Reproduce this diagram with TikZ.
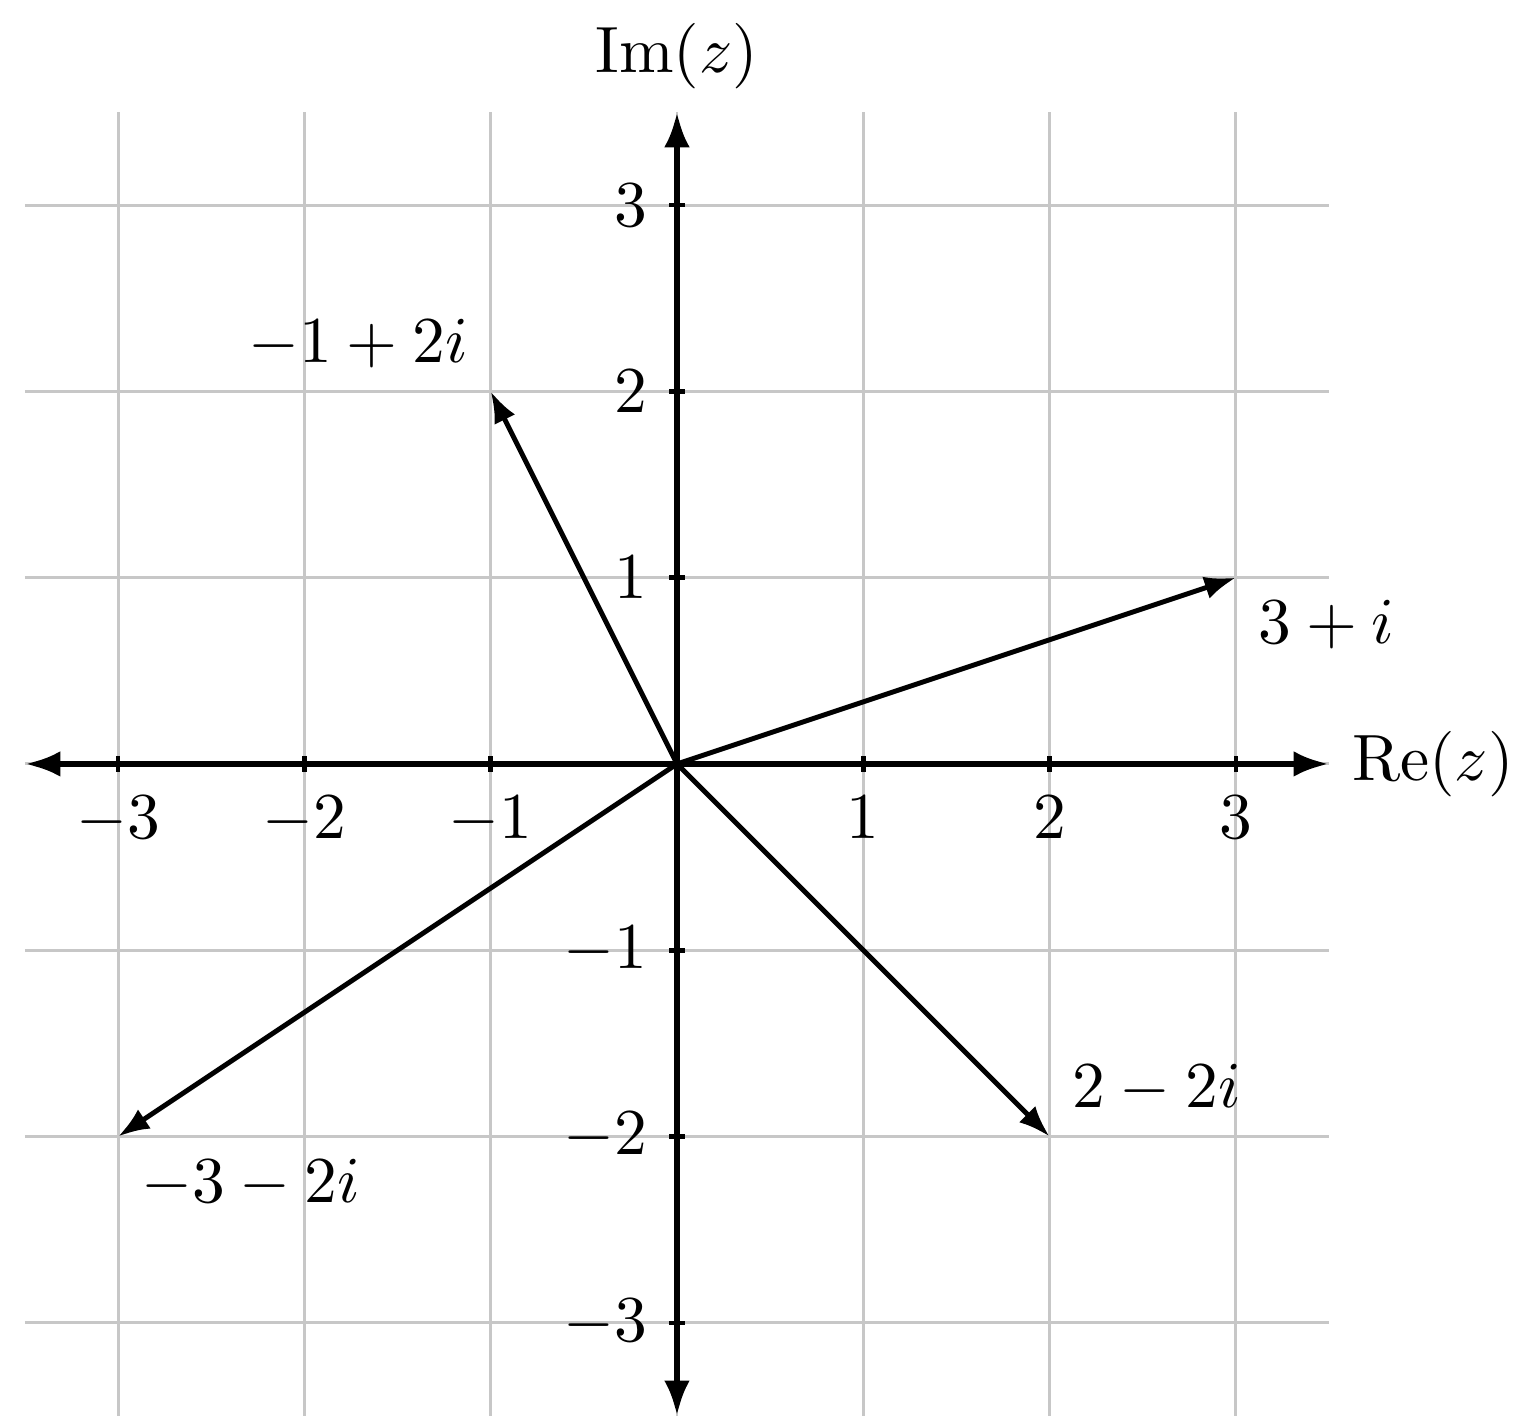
\documentclass[tikz,border=0pt]{standalone}
\usetikzlibrary{arrows.meta}
\begin{document}
\begin{tikzpicture}[
  gridline/.style={draw=black!22, line width=0.45pt},
  axisline/.style={line width=0.95pt, {Latex[length=5.4pt,width=3.9pt]}-{Latex[length=5.4pt,width=3.9pt]}},
  vec/.style={line width=0.75pt, -{Latex[length=4.8pt,width=3.5pt]}},
  tickmark/.style={line width=0.7pt},
  ticklab/.style={inner sep=3.33pt}
]
\useasboundingbox (-3.634,-3.516) rectangle (4.611,4.101);
\draw[gridline] (-3.5,-3.5) grid (3.5,3.5);
\coordinate (O) at (0,0);
\coordinate (xl) at (-3.5,0);
\coordinate (xr) at (3.5,0);
\coordinate (yb) at (0,-3.5);
\coordinate (yt) at (0,3.5);
\draw[axisline] (xl) -- (xr);
\draw[axisline] (yb) -- (yt);
\node[right] (relab) at (xr) {$\mathrm{Re}(z)$};
\node[above] (imlab) at (yt) {$\mathrm{Im}(z)$};
\foreach \k in {-3,-2,-1,1,2,3}{
  \draw[tickmark] (\k,0.043) -- (\k,-0.043) node[below, ticklab, yshift=0pt] (xt\k) {$\k$};
  \draw[tickmark] (0.043,\k) -- (-0.043,\k) node[left, ticklab, xshift=0.3pt] (yt\k) {$\k$};
}
\coordinate (A) at (3,1);
\coordinate (B) at (-1,2);
\coordinate (C) at (-3,-2);
\coordinate (D) at (2,-2);
\draw[vec] (O) -- (A);
\draw[vec] (O) -- (B);
\draw[vec] (O) -- (C);
\draw[vec] (O) -- (D);
\node[below right] (la) at (A) {$3+i$};
\node[above left] (lb) at (B) {$-1+2i$};
\node[below right] (lc) at (C) {$-3-2i$};
\node[above right] (ld) at (D) {$2-2i$};
\end{tikzpicture}
\end{document}
